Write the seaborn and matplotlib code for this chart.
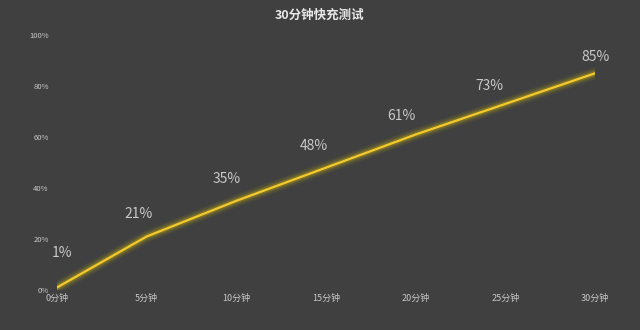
import matplotlib
matplotlib.use("Agg")
import matplotlib.pyplot as plt
import seaborn as sns
import pandas as pd

minutes = [0, 5, 10, 15, 20, 25, 30]
tick_labels = ["0分钟", "5分钟", "10分钟", "15分钟", "20分钟", "25分钟", "30分钟"]
charge = [1, 21, 35, 48, 61, 73, 85]

# label offsets in pixels (hand placed in the original)
label_dx = [5, -8, -10, -12, -14, -16, 0]
label_dy = [35, 23, 22, 22, 18, 18, 16]

df = pd.DataFrame({"min": minutes, "charge": charge})

sns.set_style("dark")
plt.rcParams["font.family"] = ["Noto Sans CJK SC", "DejaVu Sans"]

bg = "#404040"
fig = plt.figure(figsize=(6.4, 3.3), dpi=100, facecolor=bg)
ax = fig.add_axes([0.089, 0.121, 0.841, 0.773], facecolor=bg)

# glow
for lw, a in [(9, 0.08), (7, 0.12), (5, 0.18), (3.5, 0.3)]:
    sns.lineplot(data=df, x="min", y="charge", ax=ax, color="#b0a01a", lw=lw, alpha=a)
sns.lineplot(data=df, x="min", y="charge", ax=ax, color="#f5c92e", lw=1.6)

for x, y, dx, dy in zip(minutes, charge, label_dx, label_dy):
    ax.annotate(f"{y}%", (x, y), xytext=(dx, dy), textcoords="offset pixels",
                ha="center", va="center", fontsize=10, color="#c8c8c8")

ax.set_xlim(0, 30)
ax.set_ylim(0, 100)
ax.set_xticks(minutes)
ax.set_xticklabels(tick_labels)
ax.set_yticks(range(0, 101, 20))
ax.set_yticklabels([f"{v}%" for v in range(0, 101, 20)])
ax.tick_params(axis="x", colors="#c8c8c8", labelsize=6.5, length=0, pad=3)
ax.tick_params(axis="y", colors="#c8c8c8", labelsize=5.5, length=0, pad=6)
ax.set_xlabel("")
ax.set_ylabel("")
ax.grid(False)
for s in ax.spines.values():
    s.set_visible(False)

fig.text(0.5, 0.955, "30分钟快充测试", ha="center", va="center",
         fontsize=9, fontweight="bold", color="#e8e8e8")

fig.savefig("out.png", dpi=100, facecolor=bg)
